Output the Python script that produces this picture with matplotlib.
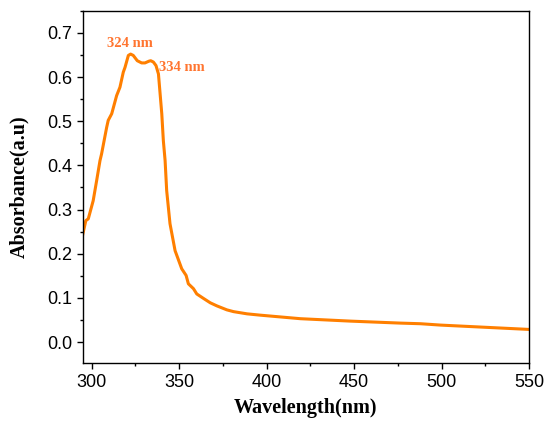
import numpy as np
import matplotlib
matplotlib.use("Agg")
from matplotlib import pyplot as plt
from matplotlib.ticker import MultipleLocator

# spectrum
wavelength = [294.8, 296.7, 298.1, 300.9, 302.9, 304.8, 305.7, 308.6, 309.5, 311.5,
              314.3, 316.2, 318.1, 319.1, 321.0, 322.3, 323.8, 326.1, 327.6, 328.6,
              330.5, 332.8, 333.8, 335.3, 336.8, 338.2, 340.1, 341.0, 342.0, 342.9,
              344.8, 347.7, 351.5, 354.0, 355.3, 358.2, 360.1, 363.9, 367.8, 371.6,
              377.3, 381.1, 388.8, 396.4, 419.3, 448.0, 476.6, 488.0, 499.5, 550.0]
absorbance = [0.241, 0.275, 0.279, 0.320, 0.366, 0.411, 0.426, 0.486, 0.502, 0.517,
              0.558, 0.577, 0.611, 0.622, 0.649, 0.652, 0.649, 0.637, 0.634, 0.632,
              0.632, 0.636, 0.637, 0.634, 0.626, 0.607, 0.517, 0.456, 0.411, 0.343,
              0.268, 0.207, 0.166, 0.151, 0.132, 0.121, 0.109, 0.099, 0.089, 0.082,
              0.073, 0.069, 0.064, 0.061, 0.053, 0.0475, 0.043, 0.0416, 0.0385, 0.0287]

peak_labels = ["324 nm", "334 nm"]
peak_pos = [(308.8, 0.667), (338.5, 0.613)]

fig = plt.figure(figsize=(5.5, 4.32), dpi=100)
ax = fig.add_axes([0.150, 0.159, 0.812, 0.816])

ax.plot(wavelength, absorbance, color="#FF7F00", linewidth=2.2)

for txt, (x, y) in zip(peak_labels, peak_pos):
    ax.text(x, y, txt, color="#FF7530", fontsize=10.5, fontweight="bold",
            family="Liberation Serif", ha="left", va="baseline")

ax.set_xlim(294.8, 550)
ax.set_ylim(-0.048, 0.75)
ax.xaxis.set_major_locator(MultipleLocator(50))
ax.xaxis.set_minor_locator(MultipleLocator(25))
ax.yaxis.set_major_locator(MultipleLocator(0.1))
ax.yaxis.set_minor_locator(MultipleLocator(0.05))
ax.yaxis.set_major_formatter(plt.FormatStrFormatter("%.1f"))

ax.tick_params(which="both", direction="out", width=1.0, labelsize=13, pad=3)
ax.tick_params(which="major", length=4.5)
ax.tick_params(which="minor", length=2.5)
for lab in ax.get_xticklabels() + ax.get_yticklabels():
    lab.set_family("Liberation Sans")
for sp in ax.spines.values():
    sp.set_linewidth(1.0)

ax.set_xlabel("Wavelength(nm)", family="Liberation Serif", fontweight="bold",
              fontsize=14.5)
ax.set_ylabel("Absorbance(a.u)", family="Liberation Serif", fontweight="bold",
              fontsize=14.5)
ax.xaxis.set_label_coords(0.5, -0.098)
ax.yaxis.set_label_coords(-0.12, 0.5)

fig.savefig("out.png", dpi=100)
